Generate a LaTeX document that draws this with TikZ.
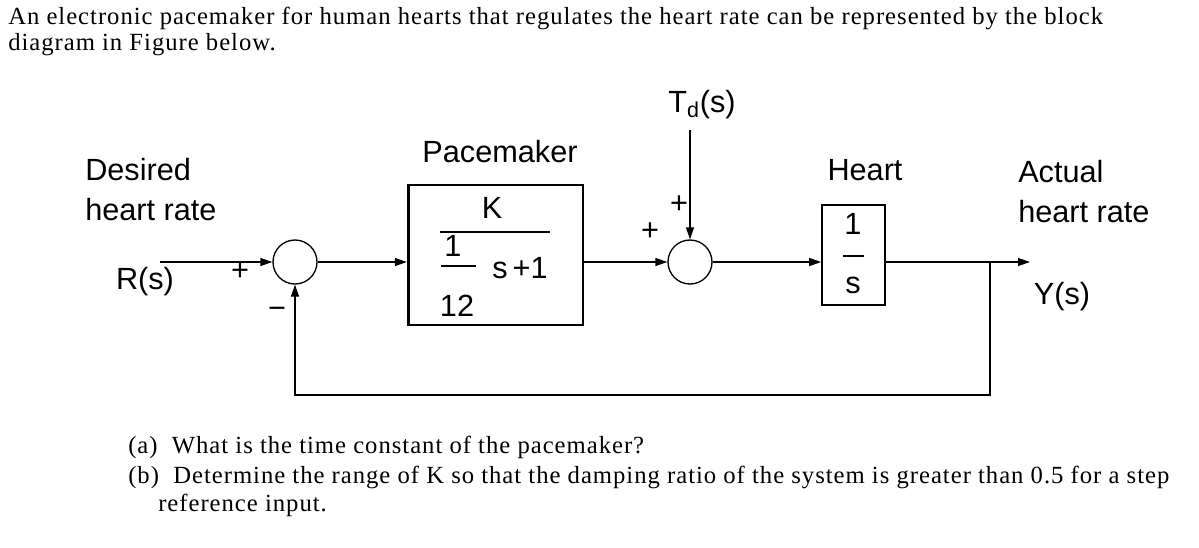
\documentclass[tikz,border=0pt]{standalone}
\usepackage{fontspec}
\setmainfont{Liberation Serif}[LetterSpace=4]
\setsansfont{Liberation Sans}
\usetikzlibrary{arrows.meta}
\begin{document}
\begin{tikzpicture}[x=0.75pt,y=-0.75pt,
  lbl/.style={font=\sffamily\fontsize{23}{26}\selectfont,inner sep=0pt},
  txt/.style={font=\fontsize{18.5}{22}\selectfont,inner sep=0pt,anchor=west},
  sumj/.style={circle,draw,line width=1pt,minimum size=33pt,inner sep=0pt},
  sig/.style={line width=1pt,-{Triangle[length=9pt,width=6pt]}},
  wire/.style={line width=1pt}]
\useasboundingbox (0,0) rectangle (1199,547);
\node[txt] (t1) at (8,18) {An electronic pacemaker for human hearts that regulates the heart rate can be represented by the block};
\node[txt] (t2) at (8,45) {diagram in Figure below.};
\node[lbl,anchor=west] (d1) at (85,170) {Desired};
\node[lbl,anchor=west] (d2) at (85,210) {heart rate};
\node[lbl] (rs) at (145,282) {R(s)};
\node[lbl] (p1) at (240,272) {+};
\node[lbl] (m1) at (277,313) {\textminus};
\node[sumj] (s1) at (295,262) {};
\coordinate (in) at (160,262);
\draw[sig] (in) -- (s1);
\node[draw,line width=2pt,minimum width=131pt,minimum height=105pt,inner sep=0pt] (pm) at (495.5,255) {};
\node[lbl] (pml) at (500,152) {Pacemaker};
\node[lbl] (k) at (492,208) {K};
\draw[wire] (440,232) -- (550,232);
\node[lbl] (one) at (453,246) {1};
\draw[wire] (441,266) -- (476,266);
\node[lbl] (s11) at (520,268) {s\,+1};
\node[lbl] (tw) at (457,306) {12};
\draw[sig] (s1) -- (pm.west|-s1);
\node[sumj] (s2) at (690,262) {};
\draw[sig] (pm.east|-s2) -- (s2);
\node[lbl] (p2) at (650,232) {+};
\node[lbl] (p3) at (679,205) {+};
\node[lbl] (td) at (702,105) {T$_{\mathsf d}$(s)};
\coordinate (tdi) at (690,130);
\draw[sig] (tdi) -- (s2);
\node[draw,line width=1.5pt,minimum width=47pt,minimum height=75pt,inner sep=0pt] (h) at (853.5,255) {};
\node[lbl] (hl) at (865,170) {Heart};
\node[lbl] (h1) at (853,224) {1};
\draw[wire] (843,256) -- (864,256);
\node[lbl] (hs) at (853,285) {s};
\draw[sig] (s2) -- (h.west|-s2);
\coordinate (br) at (990,262);
\coordinate (out) at (1030,262);
\draw[sig] (h.east|-br) -- (out);
\coordinate (c1) at (990,395);
\coordinate (c2) at (295,395);
\draw[sig] (br) -- (c1) -- (c2) -- (s1);
\node[lbl,anchor=west] (a1) at (1018,172) {Actual};
\node[lbl,anchor=west] (a2) at (1018,212) {heart rate};
\node[lbl] (ys) at (1062,297) {Y(s)};
\node[txt] (qa) at (128,447) {(a)\ \ What is the time constant of the pacemaker?};
\node[txt] (qb) at (128,477) {(b)\ \ Determine the range of K so that the damping ratio of the system is greater than 0.5 for a step};
\node[txt] (qc) at (158,505) {reference input.};
\end{tikzpicture}
\end{document}
